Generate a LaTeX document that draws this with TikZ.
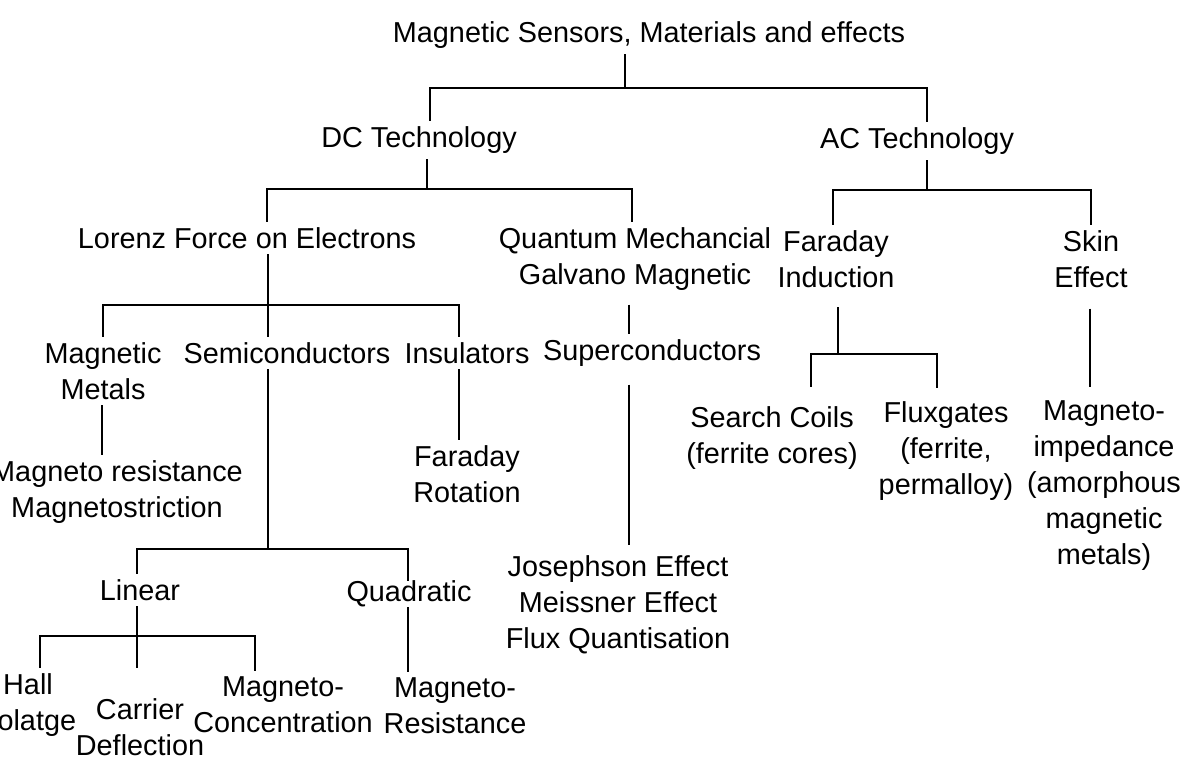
\documentclass[tikz,border=0pt]{standalone}
\usepackage{fontspec}
\setmainfont{Liberation Sans}
\begin{document}
\begin{tikzpicture}[x=0.025cm, y=-0.025cm, line width=0.9pt,
  every node/.style={font=\fontsize{20.5}{25.6}\selectfont, align=center, inner sep=0pt, outer sep=4pt}]
  \useasboundingbox (0,0) rectangle (1188,772);
  % root and DC / AC
  \node (title) at (649,35) {Magnetic Sensors, Materials and effects};
  \node (dc) at (419,140) {DC Technology};
  \node (ac) at (917,141) {AC Technology};
  % effects
  \node (lorenz) at (247,238) {Lorenz Force on Electrons};
  \node (quantum) at (635,259) {Quantum Mechancial\\Galvano Magnetic};
  \node (faraday) at (836,259) {Faraday\\Induction};
  \node (skin) at (1091,259) {Skin\\Effect};
  % materials
  \node (metals) at (103,371) {Magnetic\\Metals};
  \node (semi) at (287,353) {Semiconductors};
  \node (insul) at (467,353) {Insulators};
  \node (super) at (652,353) {Superconductors};
  \node[outer sep=14pt] (search) at (772,438) {Search Coils\\(ferrite cores)};
  \node[outer sep=10pt] (flux) at (946,451) {Fluxgates\\(ferrite,\\permalloy)};
  \node[outer sep=10pt] (imped) at (1104,486) {Magneto-\\impedance\\(amorphous\\magnetic\\metals)};
  % sensors
  \node (mres) at (117,492) {Magneto resistance\\Magnetostriction};
  \node (farrot) at (467,474) {Faraday\\Rotation};
  \node (joseph) at (618,605) {Josephson Effect\\Meissner Effect\\Flux Quantisation};
  \node (linear) at (140,590) {Linear};
  \node[outer sep=0pt] (quad) at (409,594) {Quadratic};
  \node (hall) at (28,705) {Hall\\Volatge};
  \node (carrier) at (140,727) {Carrier\\Deflection};
  \node (conc) at (283,705) {Magneto-\\Concentration};
  \node (mres2) at (455,706) {Magneto-\\Resistance};

  \coordinate (tb) at (625,88);
  \draw (title.south -| tb) -- (tb);
  \draw (dc.north -| 430,0) |- (tb) -| (ac.north -| 927,0);

  \coordinate (db) at (427,189);
  \draw (dc.south -| db) -- (db);
  \draw (lorenz.north -| 267,0) |- (db) -| (quantum.north -| 632,0);

  \coordinate (ab) at (927,190);
  \draw (ac.south -| ab) -- (ab);
  \draw (faraday.north -| 833,0) |- (ab) -| (skin.north -| 1091,0);

  \coordinate (lb) at (268,305);
  \draw (lorenz.south -| lb) -- (semi.north -| lb);
  \draw (metals.north -| 103,0) |- (lb) -| (insul.north -| 459,0);

  \draw ([yshift=-6pt]quantum.south -| 629,0) -- (super.north -| 629,0);
  \draw (metals.south -| 102,0) -- (mres.north -| 102,0);
  \draw (insul.south -| 459,0) -- (farrot.north -| 459,0);
  \draw ([yshift=-9pt]super.south -| 629,0) -- ([yshift=4pt]joseph.north -| 629,0);
  \draw ([yshift=-11pt]skin.south -| 1090,0) -- (imped.north -| 1090,0);
  \draw (quad.south -| 408,0) -- (mres2.north -| 408,0);

  \coordinate (fb) at (838,354);
  \draw ([yshift=-10pt]faraday.south -| fb) -- (fb);
  \draw (search.north -| 811,0) |- (fb) -| (flux.north -| 937,0);

  \coordinate (sb) at (268,549);
  \draw (semi.south -| sb) -- (sb);
  \draw (linear.north -| 137,0) |- (sb) -| (quad.north -| 408,0);

  \coordinate (nb) at (137,636);
  \draw (linear.south -| nb) -- (nb) -- (hall.north -| nb);
  \draw (hall.north -| 40,0) |- (nb) -| (conc.north -| 255,0);
\end{tikzpicture}
\end{document}
